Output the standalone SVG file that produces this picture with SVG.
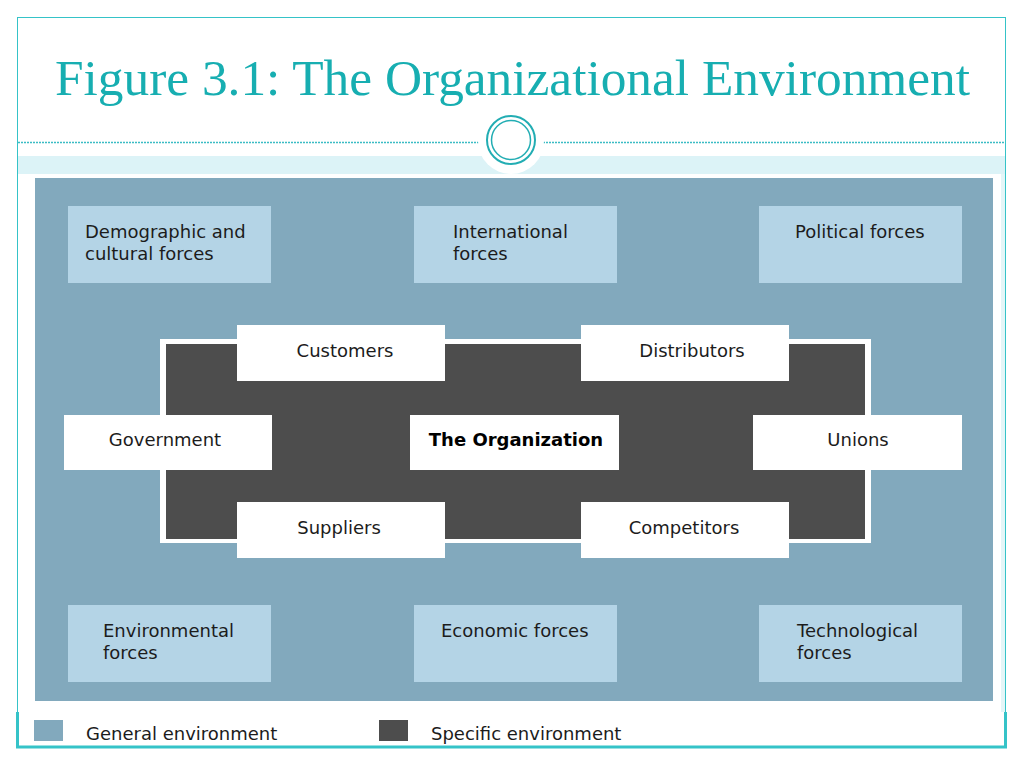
<svg xmlns="http://www.w3.org/2000/svg" width="1024" height="768" viewBox="0 0 1024 768">
<defs>
<style>
.lbl{font-family:"DejaVu Sans","Liberation Sans",sans-serif;font-size:18px;fill:#1c1c1c}
.c{text-anchor:middle}
.gen{fill:#b4d4e6}
.spec{fill:#ffffff}
.frame{stroke:#35c3c8;fill:none}
</style>
</defs>
<rect x="0" y="0" width="1024" height="768" fill="#ffffff"/>
<!-- slide frame -->
<rect x="1001" y="174" width="4" height="538" fill="#e3f6f8"/>
<rect class="frame" x="17.5" y="17.5" width="988" height="730" stroke-width="1"/>
<path class="frame" d="M17.5 712 V747 H1005.5 V712" stroke-width="3" stroke="#22c1c8"/>
<!-- title -->
<text x="55" y="95" font-family="'Liberation Serif','DejaVu Serif',serif" font-size="51" fill="#17aeb1" textLength="915" lengthAdjust="spacingAndGlyphs">Figure 3.1: The Organizational Environment</text>
<!-- header ornament -->
<rect x="18" y="156" width="987" height="18" fill="#dcf3f7"/>
<line x1="18" y1="142.5" x2="1005" y2="142.5" stroke="#3bbcc4" stroke-width="1.5" stroke-dasharray="2 1"/>
<circle cx="511" cy="141" r="33" fill="#ffffff"/>
<circle cx="511" cy="140" r="24" fill="none" stroke="#22adb3" stroke-width="2"/>
<circle cx="511" cy="140" r="19.5" fill="none" stroke="#22adb3" stroke-width="1.5"/>
<!-- general environment -->
<g id="general-environment">
<rect x="35" y="178" width="958" height="523" fill="#82a9bd"/>
</g>
<g id="demographic">
<rect class="gen" x="68" y="206" width="203" height="77"/>
<text class="lbl" x="85" y="238">Demographic and</text>
<text class="lbl" x="85" y="260">cultural forces</text>
</g>
<g id="international">
<rect class="gen" x="414" y="206" width="203" height="77"/>
<text class="lbl" x="453" y="238">International</text>
<text class="lbl" x="453" y="260">forces</text>
</g>
<g id="political">
<rect class="gen" x="759" y="206" width="203" height="77"/>
<text class="lbl" x="795" y="238">Political forces</text>
</g>
<g id="environmental">
<rect class="gen" x="68" y="605" width="203" height="77"/>
<text class="lbl" x="103" y="637">Environmental</text>
<text class="lbl" x="103" y="659">forces</text>
</g>
<g id="economic">
<rect class="gen" x="414" y="605" width="203" height="77"/>
<text class="lbl" x="441" y="637">Economic forces</text>
</g>
<g id="technological">
<rect class="gen" x="759" y="605" width="203" height="77"/>
<text class="lbl" x="797" y="637">Technological</text>
<text class="lbl" x="797" y="659">forces</text>
</g>
<!-- specific environment -->
<g id="specific-environment">
<rect x="160" y="339" width="711" height="204" fill="#ffffff"/>
<rect x="166" y="344" width="699" height="195" fill="#4d4d4d"/>
</g>
<g id="customers">
<rect class="spec" x="237" y="325" width="208" height="56"/>
<text class="lbl c" x="345" y="357">Customers</text>
</g>
<g id="distributors">
<rect class="spec" x="581" y="325" width="208" height="56"/>
<text class="lbl c" x="692" y="357">Distributors</text>
</g>
<g id="government">
<rect class="spec" x="64" y="415" width="208" height="55"/>
<text class="lbl c" x="165" y="446">Government</text>
</g>
<g id="organization">
<rect class="spec" x="410" y="415" width="209" height="55"/>
<text class="lbl c" x="516" y="446" font-weight="bold" font-size="17.5" style="fill:#000">The Organization</text>
</g>
<g id="unions">
<rect class="spec" x="753" y="415" width="209" height="55"/>
<text class="lbl c" x="858" y="446">Unions</text>
</g>
<g id="suppliers">
<rect class="spec" x="237" y="502" width="208" height="56"/>
<text class="lbl c" x="339" y="534">Suppliers</text>
</g>
<g id="competitors">
<rect class="spec" x="581" y="502" width="208" height="56"/>
<text class="lbl c" x="684" y="534">Competitors</text>
</g>
<!-- legend -->
<g id="legend-general">
<rect x="34" y="720" width="29" height="21" fill="#82a9bd"/>
<text class="lbl" x="86" y="740">General environment</text>
</g>
<g id="legend-specific">
<rect x="379" y="720" width="29" height="21" fill="#4d4d4d"/>
<text class="lbl" x="431" y="740">Specific environment</text>
</g>
</svg>
